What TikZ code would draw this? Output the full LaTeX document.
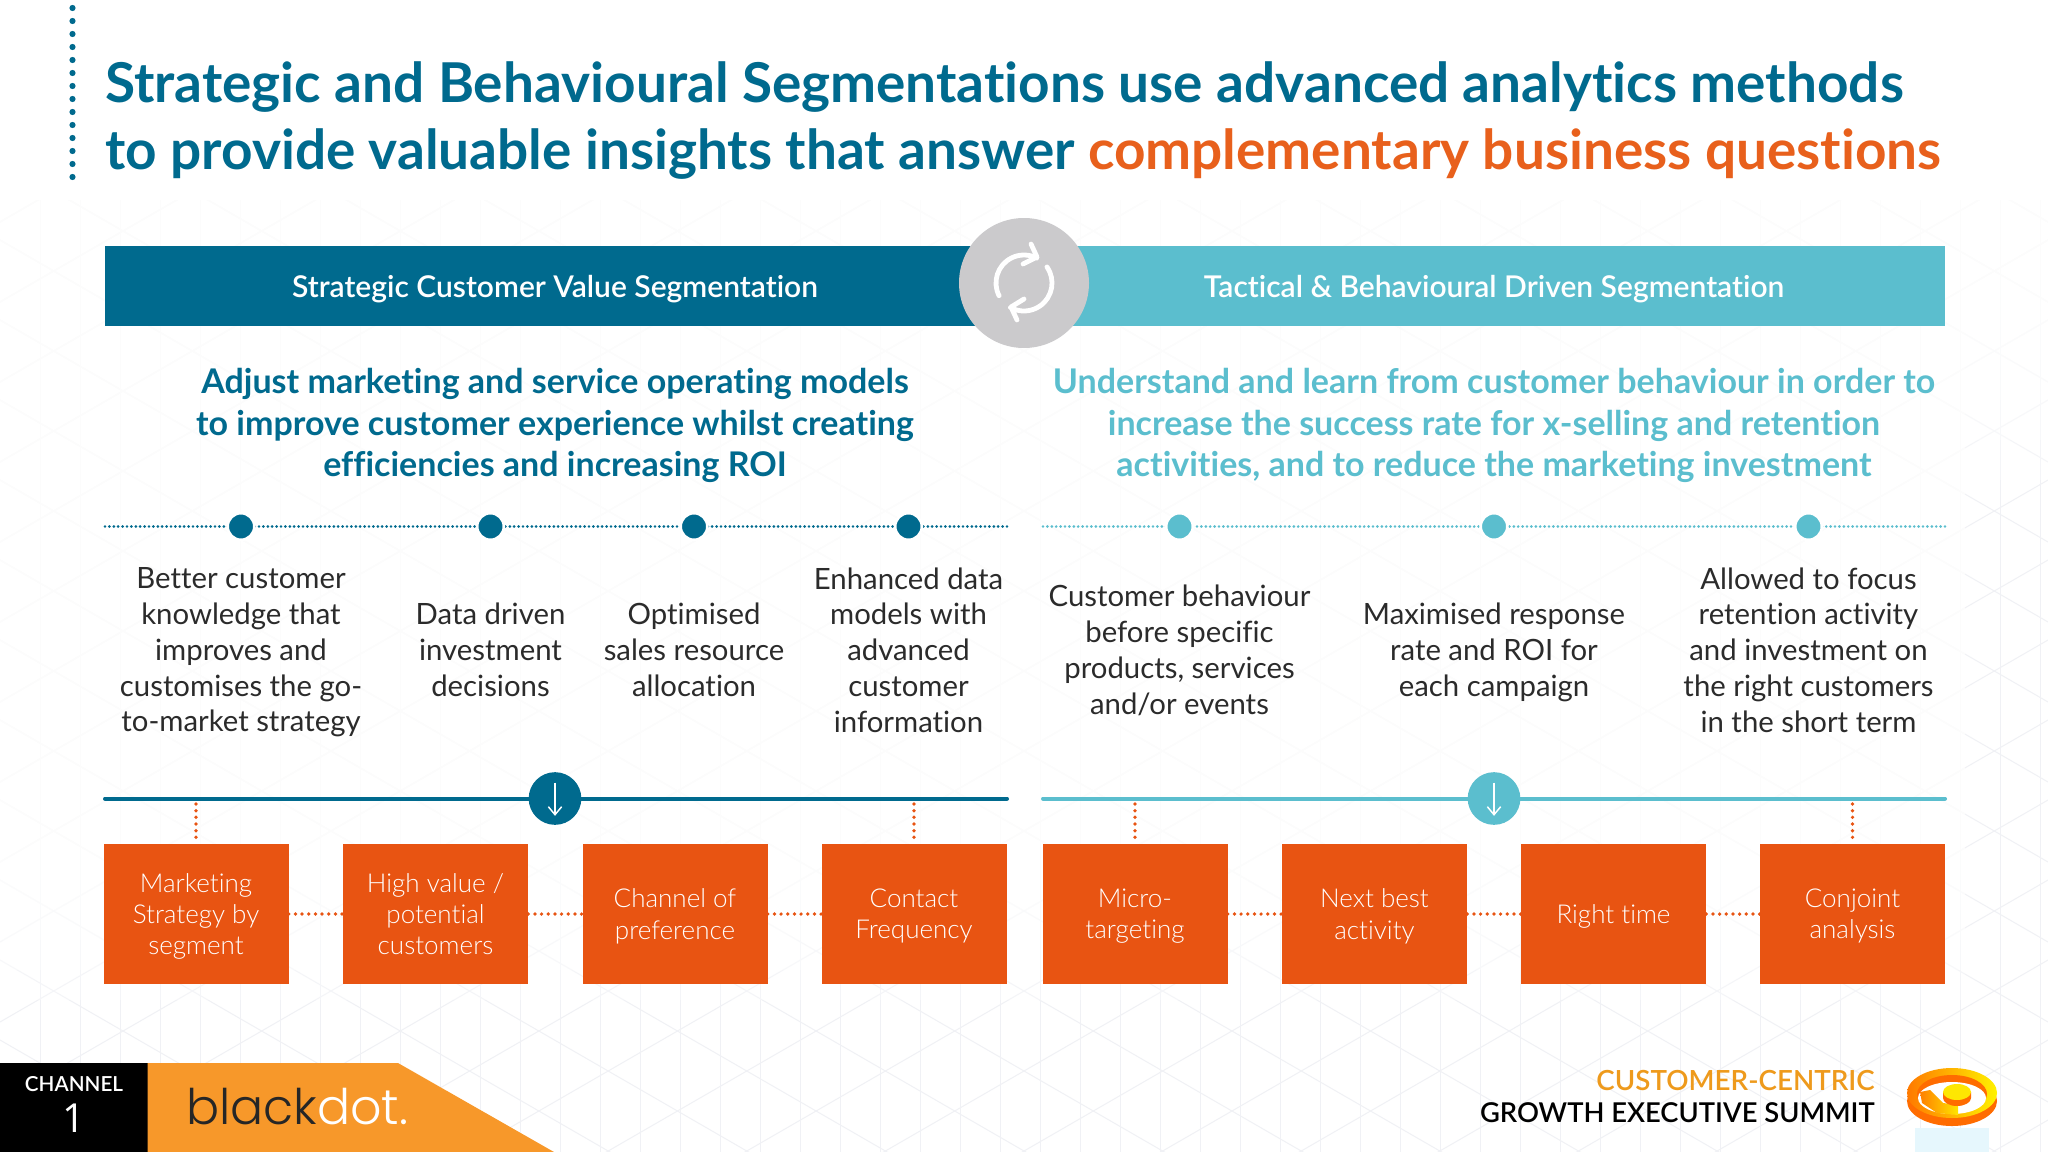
\documentclass[tikz,border=0pt]{standalone}
\usepackage{fontspec}
\setmainfont[Ligatures=CommonOff]{Lato}
\newfontfamily\lightlato[Ligatures=CommonOff]{Lato Light}
\newfontfamily\midlato[Ligatures=CommonOff]{Lato Semibold}
\newfontfamily\plainone{Open Sans}
\newfontfamily\brandfont{Poppins Light}
\usetikzlibrary{arrows.meta}
\definecolor{darkteal}{HTML}{006A8E}
\definecolor{lightteal}{HTML}{5BBECE}
\definecolor{boxorange}{HTML}{E85412}
\definecolor{titleorange}{HTML}{E8601C}
\definecolor{amber}{HTML}{F7982A}
\definecolor{summitamber}{HTML}{EE9A1C}
\definecolor{swapgrey}{HTML}{CBCACC}
\definecolor{bodygrey}{HTML}{2B2B2B}
\definecolor{gridgrey}{HTML}{F0F1F5}
\tikzset{
  barlabel/.style={text=white,font=\fontsize{22.5}{26}\midlato\selectfont},
  subhead/.style={align=center,font=\fontsize{25.5}{30.8}\selectfont\bfseries},
  bodytext/.style={align=center,text=bodygrey,font=\fontsize{22}{26.85}\selectfont},
  segbox/.style={fill=boxorange,text=white,align=center,minimum width=138.75pt,minimum height=105pt,inner sep=0pt,text depth=-2pt,font=\fontsize{19.5}{23.4}\lightlato\selectfont},
  tiedots/.style={boxorange,line width=2.8pt,line cap=round,dash pattern=on 0pt off 5pt},
  rowdots/.style={line width=2.2pt,line cap=round,dash pattern=on 0pt off 3.3pt},
  rowmark/.style={circle,inner sep=0pt,minimum size=20pt,draw=white,line width=2pt},
  downmark/.style={circle,inner sep=0pt,minimum size=39.5pt},
}
\begin{document}
\begin{tikzpicture}[x=0.75pt,y=0.75pt,yscale=-1,xscale=1]
  \useasboundingbox (0,0) rectangle (2048,1152);
  \fill[white] (0,0) rectangle (2048,1152);

  % faint background grid
  \foreach \gx in {40,80,...,2040} {\draw[gridgrey,line width=0.75pt] (\gx,200) -- (\gx,1152);}
  \foreach \gy in {-1200,-1120,...,1152} {
    \draw[gridgrey,line width=0.75pt] (0,\gy) -- (2048,\gy+1182);
    \draw[gridgrey,line width=0.75pt] (0,\gy+1182) -- (2048,\gy);
  }
  \foreach \fy in {760,790,...,1000} {\fill[white,opacity=0.3] (0,0) rectangle (1965,\fy);}
  \foreach \fy in {200,240,...,480} {\fill[white,opacity=0.3] (1965,0) rectangle (2048,\fy);}
  \fill[white] (0,0) rectangle (2048,200);

  % dots beside the title
  \foreach \dy in {0,...,13} {\fill[darkteal] (72.5,8+13*\dy) circle (3.1);}

  % title
  \node (title) [anchor=west,inner sep=0pt,align=left,text=darkteal,font=\fontsize{41.2}{50.2}\selectfont\bfseries] at (105,121)
    {Strategic and Behavioural Segmentations use advanced analytics methods\\
     to provide valuable insights that answer \textcolor{titleorange}{complementary business questions}};

  % header bars and swap icon
  \fill[darkteal] (105,246) rectangle (1000,326);
  \fill[lightteal] (1040,246) rectangle (1945,326);
  \node (barL) [barlabel] at (555,289.5) {Strategic Customer Value Segmentation};
  \node (barR) [barlabel] at (1494,289.5) {Tactical \& Behavioural Driven Segmentation};
  \node (swap) [circle,fill=swapgrey,inner sep=0pt,minimum size=97.5pt] at (1024,283) {};
  \draw[white,line width=3.6pt,line cap=round,line join=round]
    (swap.center) ++(-207:28) arc[start angle=-207,end angle=-63,radius=28]
    (swap.center) ++(7,-39) -- ++(6,13) -- ++(-14,7);
  \draw[white,line width=3.6pt,line cap=round,line join=round]
    (swap.center) ++(-35:28) arc[start angle=-35,end angle=119,radius=28]
    (swap.center) ++(0,16) -- ++(-13,8) -- ++(6,13);

  % sub headings
  \node (subL) [subhead,text=darkteal] at (555,425.5) {Adjust marketing and service operating models\\to improve customer experience whilst creating\\efficiencies and increasing ROI};
  \node (subR) [subhead,text=lightteal] at (1494,425.5) {Understand and learn from customer behaviour in order to\\increase the success rate for x-selling and retention\\activities, and to reduce the marketing investment};

  % dotted rows
  \coordinate (rowLa) at (105,526.5);
  \coordinate (rowLb) at (1007,526.5);
  \coordinate (rowRa) at (1043,526.5);
  \coordinate (rowRb) at (1945,526.5);
  \draw[rowdots,darkteal] (rowLa) -- (rowLb);
  \draw[rowdots,lightteal] (rowRa) -- (rowRb);
  \node (markLa) [rowmark,fill=darkteal] at (241,526.5) {};
  \node (markLb) [rowmark,fill=darkteal] at (490.5,526.5) {};
  \node (markLc) [rowmark,fill=darkteal] at (694,526.5) {};
  \node (markLd) [rowmark,fill=darkteal] at (908.5,526.5) {};
  \node (markRa) [rowmark,fill=lightteal] at (1179.5,526.5) {};
  \node (markRb) [rowmark,fill=lightteal] at (1494,526.5) {};
  \node (markRc) [rowmark,fill=lightteal] at (1808.5,526.5) {};

  % benefit texts
  \node (textLa) [bodytext] at (241,652.5) {Better customer\\knowledge that\\improves and\\customises the go-\\to-market strategy};
  \node (textLb) [bodytext] at (490.5,650) {Data driven\\investment\\decisions};
  \node (textLc) [bodytext] at (694,650) {Optimised\\sales resource\\allocation};
  \node (textLd) [bodytext] at (908.5,650) {Enhanced data\\models with\\advanced\\customer\\information};
  \node (textRa) [bodytext] at (1179.5,650.5) {Customer behaviour\\before specific\\products, services\\and/or events};
  \node (textRb) [bodytext] at (1494,652.5) {Maximised response\\rate and ROI for\\each campaign};
  \node (textRc) [bodytext] at (1808.5,650) {Allowed to focus\\retention activity\\and investment on\\the right customers\\in the short term};

  % orange boxes
  \node (boxLa) [segbox] at (196,914) {Marketing\\Strategy by\\segment};
  \node (boxLb) [segbox] at (435.5,914) {High value /\\potential\\customers};
  \node (boxLc) [segbox] at (675,914) {Channel of\\preference};
  \node (boxLd) [segbox] at (914,914) {Contact\\Frequency};
  \node (boxRa) [segbox] at (1135,914) {Micro-\\targeting};
  \node (boxRb) [segbox] at (1374.5,914) {Next best\\activity};
  \node (boxRc) [segbox] at (1613.5,914) {Right time};
  \node (boxRd) [segbox] at (1852.5,914) {Conjoint\\analysis};

  % solid lines
  \coordinate (lineLa) at (105,798.5);
  \coordinate (lineLb) at (1007,798.5);
  \coordinate (lineRa) at (1043,798.5);
  \coordinate (lineRb) at (1945,798.5);
  \draw[darkteal,line width=3pt,line cap=round] (lineLa) -- (lineLb);
  \draw[lightteal,line width=3pt,line cap=round] (lineRa) -- (lineRb);
  \node (downL) [downmark,fill=darkteal] at (555,798.5) {};
  \node (downR) [downmark,fill=lightteal] at (1494,798.5) {};
  \draw[white,line width=1.1pt,-{Straight Barb[length=6pt,width=10pt]}] ([yshift=-12]downL.center) -- ([yshift=13]downL.center);
  \draw[white,line width=1.1pt,-{Straight Barb[length=6pt,width=10pt]}] ([yshift=-12]downR.center) -- ([yshift=13]downR.center);

  % dotted ties
  \coordinate (dropLa) at (196,804);
  \coordinate (dropLb) at (914,804);
  \coordinate (dropRa) at (1135,804);
  \coordinate (dropRb) at (1852.5,804);
  \draw[tiedots] (dropLa) -- (boxLa.north);
  \draw[tiedots] (dropLb) -- (boxLd.north);
  \draw[tiedots] (dropRa) -- (boxRa.north);
  \draw[tiedots] (dropRb) -- (boxRd.north);
  \draw[tiedots] (boxLa) -- (boxLb);
  \draw[tiedots] (boxLb) -- (boxLc);
  \draw[tiedots] (boxLc) -- (boxLd);
  \draw[tiedots] (boxRa) -- (boxRb);
  \draw[tiedots] (boxRb) -- (boxRc);
  \draw[tiedots] (boxRc) -- (boxRd);

  % channel tab
  \fill[black] (0,1063) rectangle (147.5,1152);
  \fill[amber] (147.5,1063) -- (398,1063) -- (554,1152) -- (147.5,1152) -- cycle;
  \node (channel) [text=white,font=\fontsize{15.5}{20}\midlato\selectfont] at (74,1084) {CHANNEL};
  \node (channelno) [text=white,font=\fontsize{30}{32}\plainone\selectfont] at (74,1118) {1};
  \node (brand) [anchor=base west,inner sep=0pt,font=\fontsize{36.8}{40}\brandfont\selectfont] at (186,1124) {\textcolor{black!85}{black}\textcolor{white}{dot.}};

  % summit mark
  \node (summitA) [anchor=base east,inner sep=0pt,text=summitamber,font=\fontsize{20.8}{26}\midlato\selectfont] at (1875,1090) {CUSTOMER-CENTRIC};
  \node (summitB) [anchor=base east,inner sep=0pt,text=black,font=\fontsize{20.5}{26}\midlato\selectfont] at (1875,1122) {GROWTH EXECUTIVE SUMMIT};
  \fill[cyan!10] (1915,1128) rectangle (1989,1152);
  \fill[orange!85!red] (1952,1101) ellipse (45 and 25);
  \shade[left color=orange!95!red,right color=yellow!90!orange] (1952,1093) ellipse (45 and 25);
  \fill[orange!85!red] (1952,1094) ellipse (35 and 19);
  \fill[white] (1952,1098) ellipse (34 and 16);
  \shade[left color=orange,right color=yellow!80!orange] (1920,1092) -- (1930,1090) -- (1943,1103) -- (1958,1105) -- (1958,1115) -- (1937,1113) -- (1922,1103) -- cycle;
  \fill[orange!85!red] (1943,1092) -- (1943,1098) arc[start angle=180,end angle=0,x radius=14,y radius=8] -- (1971,1092) -- cycle;
  \fill[yellow!90!orange] (1957,1092) ellipse (14 and 8);
\end{tikzpicture}
\end{document}
